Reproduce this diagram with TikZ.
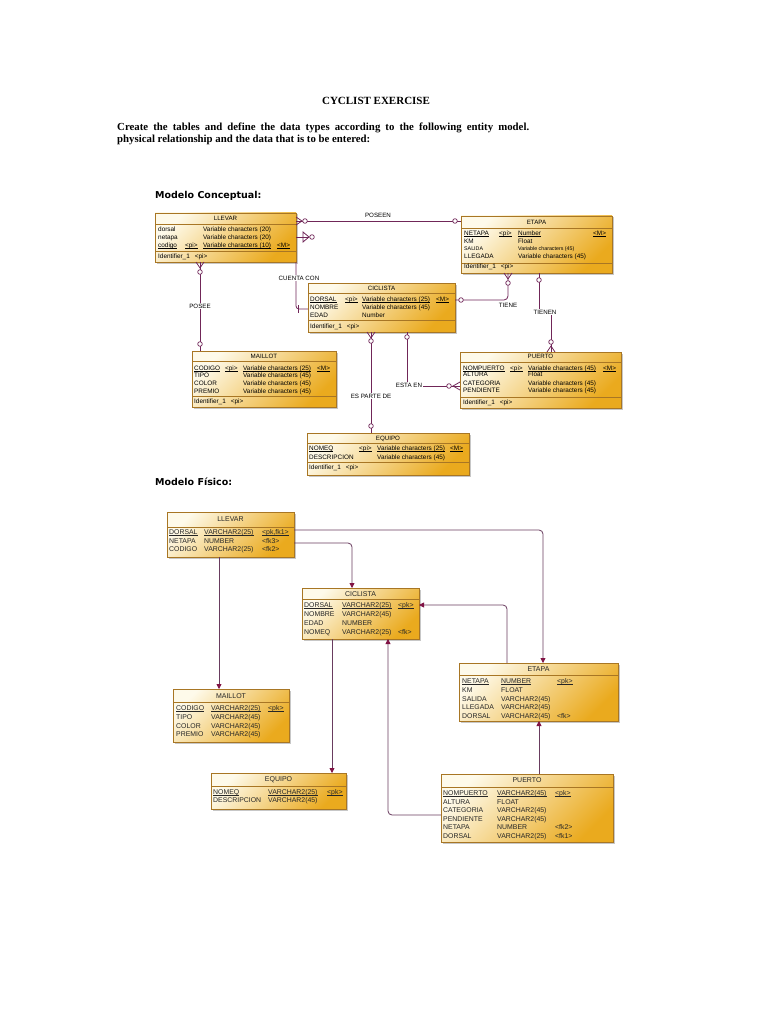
\documentclass[tikz,border=0pt]{standalone}
\usepackage{fontspec}
\setmainfont{Liberation Serif}
\newfontfamily\entfont{Liberation Sans}
\newfontfamily\headfont{DejaVu Sans}
\usetikzlibrary{calc,arrows.meta,shadows}
\definecolor{linec}{RGB}{112,38,88}
\definecolor{fkline}{RGB}{105,60,95}
\definecolor{arrc}{RGB}{128,18,68}
\definecolor{boxb}{RGB}{168,118,36}
\definecolor{boxl}{RGB}{254,250,234}
\definecolor{boxd}{RGB}{234,170,30}
\newcommand\colbox[2]{\makebox[#1pt][l]{#2}}
\newcommand\ul[1]{\setbox0\hbox{#1}\rlap{\rule[-0.9pt]{\wd0}{0.45pt}}\box0}
\newcommand\hsep[2]{\draw[sepline] ($(#1.north west)+(0,#2)$) -- ($(#1.north east)+(0,#2)$);}
\newcommand\optmark[1]{\draw[opt] (#1) circle[radius=2.3];}
\newcommand\footD[1]{\draw[rel] ($(#1)+(-4,0)$) -- ($(#1)+(0,6)$) -- ($(#1)+(4,0)$);}
\newcommand\footU[1]{\draw[rel] ($(#1)+(-4,0)$) -- ($(#1)+(0,-6)$) -- ($(#1)+(4,0)$);}
\newcommand\footR[1]{\draw[rel] ($(#1)+(0,-4)$) -- ($(#1)+(6,0)$) -- ($(#1)+(0,4)$);}
\newcommand\footL[1]{\draw[rel] ($(#1)+(0,-4)$) -- ($(#1)+(-7,0)$) -- ($(#1)+(0,4)$);}
\tikzset{
  ent/.style={draw=boxb, line width=0.7pt, top color=boxl, bottom color=boxd, shading angle=45,
    inner sep=0pt, outer sep=0pt, anchor=north west,
    drop shadow={shadow xshift=1.5pt, shadow yshift=-1.5pt, opacity=0.22, fill=black}},
  sepline/.style={draw=boxb, line width=0.6pt},
  ct/.style={font=\entfont\fontsize{6.4}{7}\selectfont, anchor=base west, inner sep=0pt},
  ctt/.style={font=\entfont\fontsize{6.2}{7}\selectfont, anchor=base, inner sep=0pt},
  phx/.style={font=\entfont\fontsize{6.9}{8}\selectfont, anchor=base west, inner sep=0pt, text=black!85},
  phxt/.style={font=\entfont\fontsize{7}{8}\selectfont, anchor=base, inner sep=0pt, text=black!85},
  rel/.style={draw=linec, line width=0.8pt},
  opt/.style={draw=linec, fill=white, line width=0.7pt},
  lab/.style={font=\entfont\fontsize{6.2}{7}\selectfont, inner sep=0.8pt},
  fk/.style={draw=fkline, line width=0.8pt, rounded corners=4pt, -{Triangle[width=5pt,length=5pt,color=arrc]}}
}
\begin{document}
\begin{tikzpicture}[x=1pt,y=-1pt]
\fill[white] (0,0) rectangle (768,1024);
\useasboundingbox (0,0) rectangle (768,1024);

% ---------- heading text ----------
\node[font=\bfseries\fontsize{11}{12}\selectfont, anchor=base, inner sep=0pt] (title) at (376,104.5) {CYCLIST EXERCISE};
\node[font=\bfseries\fontsize{10.8}{12}\selectfont, anchor=base west, inner sep=0pt] (intro1) at (117,131) {\makebox[412pt][s]{Create the tables and define the data types according to the following entity model.}};
\node[font=\bfseries\fontsize{10.8}{12}\selectfont, anchor=base west, inner sep=0pt] (intro2) at (117,142.5) {physical relationship and the data that is to be entered:};
\node[font=\headfont\bfseries\fontsize{9.5}{11}\selectfont, anchor=base west, inner sep=0pt] (mconc) at (155,199) {Modelo Conceptual:};
\node[font=\headfont\bfseries\fontsize{9.5}{11}\selectfont, anchor=base west, inner sep=0pt] (mfis) at (155,485) {Modelo Físico:};

% ---------- conceptual entities ----------
% LLEVAR
\node[ent, minimum width=141pt, minimum height=49pt] (cLlevar) at (155,213) {};
\hsep{cLlevar}{11}\hsep{cLlevar}{38}
\node[ctt] (cLlevarT) at (225.5,220.2) {LLEVAR};
\node[ct] (cL1) at (158,231.2) {\colbox{45}{dorsal}Variable characters (20)};
\node[ct] (cL2) at (158,239.2) {\colbox{45}{netapa}Variable characters (20)};
\node[ct] (cL3) at (158,247.2) {\colbox{27}{\ul{codigo}}\colbox{18}{\ul{<pi>}}\colbox{74}{\ul{Variable characters (10)}}\ul{<M>}};
\node[ct] (cL4) at (158,258.2) {Identifier\_1\hspace{5pt}<pi>};

% ETAPA
\node[ent, minimum width=151pt, minimum height=57pt] (cEtapa) at (461,216) {};
\hsep{cEtapa}{12}\hsep{cEtapa}{47}
\node[ctt] (cEtapaT) at (536.5,224.2) {ETAPA};
\node[ct] (cE1) at (464,235.2) {\colbox{35}{\ul{NETAPA}}\colbox{19}{\ul{<pi>}}\colbox{75}{\ul{Number}}\ul{<M>}};
\node[ct] (cE2) at (464,243.2) {\colbox{54}{KM}Float};
\node[ct] (cE3) at (464,250.2) {\fontsize{5.3}{6}\selectfont\colbox{54}{SALIDA}Variable characters (45)};
\node[ct] (cE4) at (464,258.2) {\colbox{54}{LLEGADA}Variable characters (45)};
\node[ct] (cE5) at (464,268.2) {Identifier\_1\hspace{5pt}<pi>};

% CICLISTA
\node[ent, minimum width=147pt, minimum height=49pt] (cCiclista) at (308,283) {};
\hsep{cCiclista}{10}\hsep{cCiclista}{37}
\node[ctt] (cCiclistaT) at (381.5,290.2) {CICLISTA};
\node[ct] (cC1) at (310,301.2) {\colbox{35}{\ul{DORSAL}}\colbox{17}{\ul{<pi>}}\colbox{74}{\ul{Variable characters (25)}}\ul{<M>}};
\node[ct] (cC2) at (310,309.2) {\colbox{52}{NOMBRE}Variable characters (45)};
\node[ct] (cC3) at (310,317.2) {\colbox{52}{EDAD}Number};
\node[ct] (cC4) at (310,328.2) {Identifier\_1\hspace{5pt}<pi>};

% MAILLOT
\node[ent, minimum width=144pt, minimum height=56pt] (cMaillot) at (192,351) {};
\hsep{cMaillot}{10}\hsep{cMaillot}{45}
\node[ctt] (cMaillotT) at (264,358.2) {MAILLOT};
\node[ct] (cM1) at (194,370.2) {\colbox{31}{\ul{CODIGO}}\colbox{18}{\ul{<pi>}}\colbox{74}{\ul{Variable characters (25)}}\ul{<M>}};
\node[ct] (cM2) at (194,377.2) {\colbox{49}{TIPO}Variable characters (45)};
\node[ct] (cM3) at (194,385.2) {\colbox{49}{COLOR}Variable characters (45)};
\node[ct] (cM4) at (194,393.2) {\colbox{49}{PREMIO}Variable characters (45)};
\node[ct] (cM5) at (194,403.2) {Identifier\_1\hspace{5pt}<pi>};

% PUERTO
\node[ent, minimum width=161pt, minimum height=56pt] (cPuerto) at (460,352) {};
\hsep{cPuerto}{10}\hsep{cPuerto}{45}
\node[ctt] (cPuertoT) at (540.5,358.2) {PUERTO};
\node[ct] (cP1) at (463,370.2) {\colbox{47}{\ul{NOMPUERTO}}\colbox{18}{\ul{<pi>}}\colbox{75}{\ul{Variable characters (45)}}\ul{<M>}};
\node[ct] (cP2) at (463,376.6) {\colbox{65}{ALTURA}Float};
\node[ct] (cP3) at (463,385.2) {\colbox{65}{CATEGORIA}Variable characters (45)};
\node[ct] (cP4) at (463,392.2) {\colbox{65}{PENDIENTE}Variable characters (45)};
\node[ct] (cP5) at (463,404.2) {Identifier\_1\hspace{5pt}<pi>};

% EQUIPO
\node[ent, minimum width=162pt, minimum height=42pt] (cEquipo) at (307,433) {};
\hsep{cEquipo}{10}\hsep{cEquipo}{29}
\node[ctt] (cEquipoT) at (388,440.2) {EQUIPO};
\node[ct] (cQ1) at (309,450.2) {\colbox{50}{\ul{NOMEQ}}\colbox{18}{\ul{<pi>}}\colbox{73}{\ul{Variable characters (25)}}\ul{<M>}};
\node[ct] (cQ2) at (309,459.2) {\colbox{68}{DESCRIPCION}Variable characters (45)};
\node[ct] (cQ3) at (309,469.2) {Identifier\_1\hspace{5pt}<pi>};

% ---------- conceptual relationships ----------
% POSEEN
\coordinate (r1a) at ($(cLlevar.north east)+(0,8)$);
\coordinate (r1b) at ($(cEtapa.north west)+(0,5)$);
\draw[rel] (r1a) -- (r1b);
\footR{r1a}
\optmark{$(r1a)+(9,0)$}
\optmark{$(r1b)+(-6,0)$}
\node[lab] (lPoseen) at (378,215) {POSEEN};

% CUENTA CON
\coordinate (r2a) at ($(cLlevar.north east)+(0,24)$);
\coordinate (r2b) at ($(cCiclista.north west)+(0,26)$);
\draw[rel] (r2a) -- ($(r2a)+(13,0)$);
\draw[rel] ($(r2a)+(7,-5)$) -- ($(r2a)+(7,5)$) -- ($(r2a)+(13,0)$) -- cycle;
\optmark{$(r2a)+(16,0)$}
\draw[rel, rounded corners=3pt] (cLlevar.south east) |- (r2b);
\draw[rel] ($(r2b)+(-10,-4)$) -- ($(r2b)+(-10,4)$);
\node[lab, fill=white] (lCuenta) at (299,278) {CUENTA CON};

% POSEE
\coordinate (r3a) at ($(cLlevar.south west)+(45,0)$);
\coordinate (r3b) at ($(cMaillot.north west)+(8,0)$);
\draw[rel] (r3a) -- (r3b);
\footD{r3a}
\optmark{$(r3a)+(0,10)$}
\optmark{$(r3b)+(0,-7)$}
\node[lab, fill=white] (lPosee) at (200,306) {POSEE};

% TIENE
\coordinate (r4a) at ($(cCiclista.north east)+(0,17)$);
\coordinate (r4b) at ($(cEtapa.south west)+(47,0)$);
\draw[rel, rounded corners=4pt] (r4a) -| (r4b);
\optmark{$(r4a)+(6,0)$}
\footD{r4b}
\optmark{$(r4b)+(0,10)$}
\node[lab] (lTiene) at (508,305.5) {TIENE};

% TIENEN
\coordinate (r5a) at ($(cEtapa.south west)+(78,0)$);
\coordinate (r5b) at ($(cPuerto.north west)+(91,0)$);
\draw[rel] (r5a) -- ($(r5a)+(0,39)$) -| (r5b);
\optmark{$(r5a)+(0,7)$}
\footU{r5b}
\optmark{$(r5b)+(0,-10)$}
\node[lab, fill=white] (lTienen) at (545,312) {TIENEN};

% ES PARTE DE
\coordinate (r6a) at ($(cCiclista.south west)+(63,0)$);
\coordinate (r6b) at ($(cEquipo.north west)+(64,0)$);
\draw[rel] (r6a) -- (r6b);
\footD{r6a}
\optmark{$(r6a)+(0,9)$}
\optmark{$(r6b)+(0,-7)$}
\node[lab, fill=white] (lParte) at (371,396) {ES PARTE DE};

% ESTA EN
\coordinate (r7a) at ($(cCiclista.south west)+(99,0)$);
\coordinate (r7b) at ($(cPuerto.north west)+(0,34)$);
\draw[rel] (r7a) |- (r7b);
\optmark{$(r7a)+(0,5)$}
\footL{r7b}
\optmark{$(r7b)+(-11,0)$}
\node[lab, fill=white] (lEsta) at (409,385) {ESTA EN};

% ---------- physical tables ----------
% LLEVAR
\node[ent, minimum width=127pt, minimum height=45pt] (pLlevar) at (167,512) {};
\hsep{pLlevar}{15}
\node[phxt] (pLlevarT) at (230.5,521.5) {LLEVAR};
\node[phx] (pL1) at (169,534.5) {\colbox{35}{\ul{DORSAL}}\colbox{58}{\ul{VARCHAR2(25)}}\ul{<pk,fk1>}};
\node[phx] (pL2) at (169,543.5) {\colbox{35}{NETAPA}\colbox{58}{NUMBER}<fk3>};
\node[phx] (pL3) at (169,551.5) {\colbox{35}{CODIGO}\colbox{58}{VARCHAR2(25)}<fk2>};

% CICLISTA
\node[ent, minimum width=117pt, minimum height=51pt] (pCiclista) at (302,588) {};
\hsep{pCiclista}{11}
\node[phxt] (pCiclistaT) at (360.5,596.5) {CICLISTA};
\node[phx] (pC1) at (304,607.5) {\colbox{38}{\ul{DORSAL}}\colbox{56}{\ul{VARCHAR2(25)}}\ul{<pk>}};
\node[phx] (pC2) at (304,616.5) {\colbox{38}{NOMBRE}VARCHAR2(45)};
\node[phx] (pC3) at (304,625.5) {\colbox{38}{EDAD}NUMBER};
\node[phx] (pC4) at (304,634.5) {\colbox{38}{NOMEQ}\colbox{56}{VARCHAR2(25)}<fk>};

% ETAPA
\node[ent, minimum width=159pt, minimum height=58pt] (pEtapa) at (459,663) {};
\hsep{pEtapa}{12}
\node[phxt] (pEtapaT) at (538.5,671.5) {ETAPA};
\node[phx] (pE1) at (462,683.5) {\colbox{39}{\ul{NETAPA}}\colbox{56}{\ul{NUMBER}}\ul{<pk>}};
\node[phx] (pE2) at (462,692.5) {\colbox{39}{KM}FLOAT};
\node[phx] (pE3) at (462,701.5) {\colbox{39}{SALIDA}VARCHAR2(45)};
\node[phx] (pE4) at (462,709.5) {\colbox{39}{LLEGADA}VARCHAR2(45)};
\node[phx] (pE5) at (462,718.5) {\colbox{39}{DORSAL}\colbox{56}{VARCHAR2(45)}<fk>};

% MAILLOT
\node[ent, minimum width=116pt, minimum height=53pt] (pMaillot) at (173,689) {};
\hsep{pMaillot}{13}
\node[phxt] (pMaillotT) at (231,698.5) {MAILLOT};
\node[phx] (pM1) at (176,710.5) {\colbox{35}{\ul{CODIGO}}\colbox{57}{\ul{VARCHAR2(25)}}\ul{<pk>}};
\node[phx] (pM2) at (176,719.5) {\colbox{35}{TIPO}VARCHAR2(45)};
\node[phx] (pM3) at (176,728.5) {\colbox{35}{COLOR}VARCHAR2(45)};
\node[phx] (pM4) at (176,736.5) {\colbox{35}{PREMIO}VARCHAR2(45)};

% EQUIPO
\node[ent, minimum width=135pt, minimum height=36pt] (pEquipo) at (211,773) {};
\hsep{pEquipo}{13}
\node[phxt] (pEquipoT) at (278.5,781.5) {EQUIPO};
\node[phx] (pQ1) at (213,794.5) {\colbox{55}{\ul{NOMEQ}}\colbox{59}{\ul{VARCHAR2(25)}}\ul{<pk>}};
\node[phx] (pQ2) at (213,802.5) {\colbox{55}{DESCRIPCION}VARCHAR2(45)};

% PUERTO
\node[ent, minimum width=172pt, minimum height=68pt] (pPuerto) at (441,774) {};
\hsep{pPuerto}{13}
\node[phxt] (pPuertoT) at (527,782.5) {PUERTO};
\node[phx] (pP1) at (443,795.5) {\colbox{54}{\ul{NOMPUERTO}}\colbox{58}{\ul{VARCHAR2(45)}}\ul{<pk>}};
\node[phx] (pP2) at (443,804.5) {\colbox{54}{ALTURA}FLOAT};
\node[phx] (pP3) at (443,812.5) {\colbox{54}{CATEGORIA}VARCHAR2(45)};
\node[phx] (pP4) at (443,821.5) {\colbox{54}{PENDIENTE}VARCHAR2(45)};
\node[phx] (pP5) at (443,829.5) {\colbox{54}{NETAPA}\colbox{58}{NUMBER}<fk2>};
\node[phx] (pP6) at (443,838.5) {\colbox{54}{DORSAL}\colbox{58}{VARCHAR2(25)}<fk1>};

% ---------- physical references ----------
\draw[fk] ($(pLlevar.north east)+(0,18)$) -| ($(pEtapa.north west)+(84,0)$);
\draw[fk] ($(pLlevar.north east)+(0,31)$) -| ($(pCiclista.north west)+(50,0)$);
\draw[fk] ($(pLlevar.south west)+(52,0)$) -- ($(pMaillot.north west)+(46,0)$);
\draw[fk] ($(pCiclista.south west)+(30,0)$) -- ($(pEquipo.north west)+(121,0)$);
\draw[fk] ($(pEtapa.north west)+(48,0)$) |- ($(pCiclista.north east)+(0,17)$);
\draw[fk] ($(pPuerto.north west)+(0,41)$) -| ($(pCiclista.south west)+(86,0)$);
\draw[fk] ($(pPuerto.north west)+(98,0)$) -- ($(pEtapa.south west)+(80,0)$);
\end{tikzpicture}
\end{document}
